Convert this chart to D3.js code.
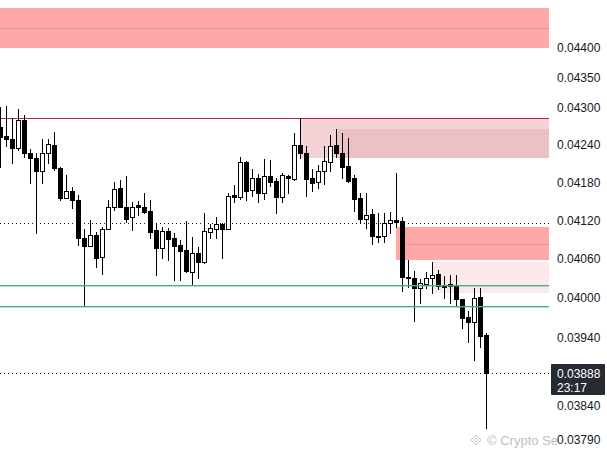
<!DOCTYPE html>
<html>
<head>
<meta charset="utf-8">
<script src="https://cdn.jsdelivr.net/npm/d3@7"></script>
<style>
  html, body { margin: 0; padding: 0; background: #ffffff; }
  svg { display: block; }
</style>
</head>
<body>
<svg id="chart" width="607" height="455"></svg>
<script>
// ---------------- DATA ----------------
const opens = [
  0.042689,0.042543,0.042494,0.042349,0.042802,0.042269,0.042189,0.041981,0.042269,0.042398,
  0.042029,0.041554,0.041664,0.041522,0.040927,0.040803,0.040974,0.040633,0.041067,0.041411,
  0.041712,0.041411,0.041255,0.041443,0.041411,0.041348,0.041051,0.040772,0.041036,0.040927,
  0.040819,0.040741,0.040402,0.040695,0.040556,0.041020,0.041067,0.041145,0.041067,0.041601,
  0.041570,0.042125,0.041680,0.041870,0.041633,0.041902,0.041822,0.041570,0.041902,0.041854,
  0.042398,0.042269,0.041870,0.041806,0.041981,0.042125,0.042398,0.042269,0.042061,0.041870,
  0.041554,0.041224,0.041302,0.040958,0.040958,0.041161,0.041208,0.041192,0.040326,0.040311,
  0.040158,0.040219,0.040311,0.040372,0.040204,0.040219,0.040188,0.039990,0.039717,0.039642,
  0.040021,0.039447
];
const highs = [
  0.043014,0.043030,0.042835,0.042981,0.042884,0.042333,0.042269,0.042494,0.042494,0.042608,
  0.042045,0.041918,0.041727,0.041601,0.041067,0.041208,0.041020,0.041098,0.041522,0.041806,
  0.041838,0.041902,0.041490,0.041506,0.041633,0.041522,0.041161,0.041098,0.041082,0.041004,
  0.040896,0.041192,0.040942,0.040788,0.041317,0.041145,0.041255,0.041161,0.041633,0.041759,
  0.042205,0.042141,0.042013,0.041933,0.042173,0.042157,0.041870,0.041949,0.041918,0.042592,
  0.042830,0.042381,0.042013,0.042077,0.042381,0.042559,0.042656,0.042592,0.042510,0.041918,
  0.041633,0.041633,0.041380,0.041317,0.041317,0.041333,0.041949,0.041255,0.040587,0.040418,
  0.040295,0.040402,0.040556,0.040433,0.040341,0.040357,0.040357,0.039990,0.039808,0.040158,
  0.040158,0.039477
];
const lows = [
  0.042045,0.042381,0.042109,0.042317,0.042205,0.041791,0.041004,0.041791,0.042109,0.041997,
  0.041522,0.041554,0.041396,0.040819,0.039899,0.040803,0.040479,0.040372,0.041067,0.041364,
  0.041411,0.041177,0.041051,0.041286,0.041317,0.040927,0.040357,0.040618,0.040587,0.040280,
  0.040280,0.040402,0.040204,0.040311,0.040541,0.040927,0.040927,0.040618,0.041067,0.041490,
  0.041538,0.041522,0.041585,0.041490,0.041538,0.041743,0.041317,0.041490,0.041633,0.041838,
  0.042189,0.041585,0.041664,0.041712,0.041775,0.041981,0.042205,0.041870,0.041806,0.041348,
  0.041161,0.041082,0.040834,0.040865,0.040865,0.041004,0.041098,0.040112,0.040173,0.039657,
  0.039929,0.040158,0.040081,0.040142,0.040005,0.039929,0.039884,0.039552,0.039342,0.039075,
  0.039268,0.038079
];
const closes = [
  0.042527,0.042494,0.042349,0.042802,0.042269,0.042189,0.041981,0.042269,0.042414,0.042029,
  0.041554,0.041664,0.041522,0.040927,0.040803,0.040974,0.040618,0.041067,0.041411,0.041696,
  0.041411,0.041224,0.041411,0.041411,0.041333,0.041020,0.040772,0.041036,0.040911,0.040803,
  0.040726,0.040418,0.040695,0.040556,0.041036,0.041082,0.041145,0.041067,0.041585,0.041570,
  0.042125,0.041664,0.041870,0.041633,0.041902,0.041806,0.041570,0.041918,0.041870,0.042398,
  0.042269,0.041854,0.041791,0.041981,0.042141,0.042381,0.042269,0.042045,0.041822,0.041538,
  0.041224,0.041286,0.040958,0.040942,0.041161,0.041208,0.041177,0.040326,0.040311,0.040158,
  0.040234,0.040311,0.040357,0.040188,0.040173,0.040188,0.039990,0.039702,0.039642,0.040005,
  0.039432,0.038880
];

const tickValues = [0.04400,0.04350,0.04300,0.04240,0.04180,0.04120,0.04060,0.04000,0.03940,0.03840,0.03790];
const lastPrice = 0.03888;
const lastPriceLabel = "0.03888";
const countdownLabel = "23:17";

// Zones: [startIndex (null = full width), top price, bottom price]
const zoneStarts  = [null,     50,       56,       66,       72];
const zoneTops    = [0.044661, 0.042830, 0.042656, 0.041098, 0.040556];
const zoneBottoms = [0.043988, 0.042189, 0.042189, 0.040587, 0.040081];
const zoneMids    = [0.044324, null,     0.042592, 0.040834, null];

// Horizontal levels
const resistanceLevel = 0.042830;
const supportLevels = [0.040204, 0.039884];
const dottedLevel = 0.041156;

const watermark = "© Crypto Se";

// ---------------- CHART ----------------
const plotRight = 549;
const svg = d3.select("#chart");

const x = d3.scaleLinear().domain([0, opens.length - 1]).range([0.3, 486.3]);
const y = d3.scaleLog().domain([0.0379, 0.044]).range([440, 47.3]);

const candles = opens.map((o, i) => ({ i, o, h: highs[i], l: lows[i], c: closes[i] }));

// zones
const zoneFills = ["#ffa8a8", "#f3d3d6", "#ebc1c5", "#ffa8a8", "#fde9e9"];
const zoneMidColors = ["#f2909c", null, "#e0a9ae", "#f2909c", null];
const zones = zoneStarts.map((s, k) => ({ s, top: zoneTops[k], bot: zoneBottoms[k], mid: zoneMids[k], k }));

const gz = svg.append("g");
zones.forEach(z => {
  const x0 = z.s === null ? 0 : Math.round(x(z.s));
  const y0 = Math.round(y(z.top)), y1 = Math.round(y(z.bot));
  gz.append("rect")
    .attr("x", x0).attr("y", y0)
    .attr("width", plotRight - x0).attr("height", y1 - y0)
    .attr("fill", zoneFills[z.k]);
  if (z.mid !== null) {
    const ym = Math.round(y(z.mid)) + 0.5;
    const xm = z.k === 3 ? x0 + 10 : x0;
    gz.append("line")
      .attr("x1", xm).attr("x2", plotRight)
      .attr("y1", ym).attr("y2", ym)
      .attr("stroke", zoneMidColors[z.k])
      .attr("stroke-width", 1)
      .attr("stroke-dasharray", z.k === 2 ? "1,3" : null);
  }
});

// levels
const yr = Math.round(y(resistanceLevel)) + 0.5;
svg.append("line").attr("x1", 0).attr("x2", plotRight).attr("y1", yr).attr("y2", yr)
  .attr("stroke", "#b52a3e").attr("stroke-width", 1.2);

[dottedLevel, lastPrice].forEach(v => {
  const yy = Math.round(y(v)) + 0.5;
  svg.append("line").attr("x1", 0).attr("x2", plotRight).attr("y1", yy).attr("y2", yy)
    .attr("stroke", "#131722").attr("stroke-width", 1).attr("stroke-dasharray", "1,3");
});

// candles
const gc = svg.append("g");
candles.forEach(d => {
  const cx = Math.round(x(d.i));
  const up = d.c >= d.o;
  gc.append("line")
    .attr("x1", cx + 0.5).attr("x2", cx + 0.5)
    .attr("y1", Math.round(y(d.h))).attr("y2", Math.round(y(d.l)) + 1)
    .attr("stroke", "#000").attr("stroke-width", 1);
  const yt = Math.round(y(Math.max(d.o, d.c)));
  const yb = Math.round(y(Math.min(d.o, d.c)));
  const hgt = Math.max(1, yb - yt);
  if (up) {
    gc.append("rect")
      .attr("x", cx - 2 + 0.5).attr("y", yt + 0.5)
      .attr("width", 4).attr("height", hgt)
      .attr("fill", "#fff").attr("stroke", "#000").attr("stroke-width", 1);
  } else {
    gc.append("rect")
      .attr("x", cx - 2).attr("y", yt)
      .attr("width", 5).attr("height", hgt + 1)
      .attr("fill", "#000");
  }
});

// support lines drawn on top of candles
supportLevels.forEach(v => {
  const yy = Math.round(y(v));
  svg.append("rect").attr("x", 0).attr("y", yy).attr("width", plotRight).attr("height", 1.4)
    .attr("fill", "#3fb08f");
});

// watermark
const wm = svg.append("g").attr("transform", "translate(470,440)");
wm.append("path")
  .attr("d", "M6,-5 L11,0 L6,5 L1,0 Z M6,-2 L8,0 L6,2 L4,0 Z")
  .attr("fill", "none").attr("stroke", "#c4c4c4").attr("stroke-width", 1);
wm.append("text").attr("x", 17).attr("y", 4.5)
  .attr("font-family", "Liberation Sans, Arial, sans-serif").attr("font-size", 13)
  .attr("fill", "#bfbfbf").text(watermark);

// right axis
const axis = d3.axisRight(y).tickValues(tickValues).tickSize(0).tickPadding(0)
  .tickFormat(d3.format(".5f"));
const ga = svg.append("g").attr("transform", `translate(557,0)`).call(axis);
ga.select(".domain").remove();
ga.selectAll("text")
  .attr("font-family", "Liberation Sans, Arial, sans-serif")
  .attr("font-size", 12).attr("fill", "#131722");

// last price label
const yl = y(lastPrice);
svg.append("rect").attr("x", 551).attr("y", Math.round(yl) - 9).attr("width", 54).attr("height", 31)
  .attr("rx", 1).attr("fill", "#262a33");
svg.append("text").attr("x", 557).attr("y", yl + 5)
  .attr("font-family", "Liberation Sans, Arial, sans-serif").attr("font-size", 12)
  .attr("fill", "#fff").text(lastPriceLabel);
svg.append("text").attr("x", 557).attr("y", yl + 19)
  .attr("font-family", "Liberation Sans, Arial, sans-serif").attr("font-size", 12)
  .attr("fill", "#fff").text(countdownLabel);
</script>
</body>
</html>
